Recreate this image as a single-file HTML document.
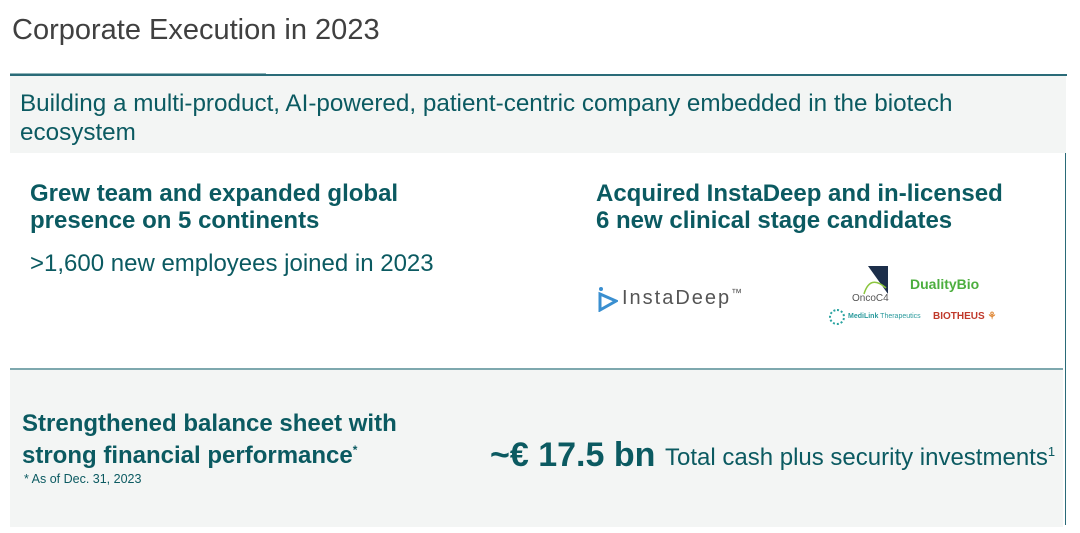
<!DOCTYPE html>
<html><head><style>
body{margin:0;width:1080px;height:533px;background:#fff;position:relative;overflow:hidden;font-family:"Liberation Sans",sans-serif;}
.a{position:absolute;white-space:nowrap;}
.t{color:#0b5a61;}
.b{font-weight:bold;font-size:24px;line-height:27px;color:#0b5a61;}
</style></head><body>
<div class="a" style="left:12px;top:14px;font-size:29px;color:#404040;">Corporate Execution in 2023</div>
<div class="a" style="left:10px;top:74px;width:1057px;height:2px;background:#2a6b78;"></div>
<div class="a" style="left:10px;top:73px;width:256px;height:1px;background:#8fb4b8;"></div>
<div class="a" style="left:10px;top:76px;width:1056px;height:77px;background:#f3f5f4;"></div>
<div class="a t" style="left:20px;top:89px;font-size:24px;line-height:29px;transform-origin:0 0;transform:scaleX(1.01);">Building a multi-product, AI-powered, patient-centric company embedded in the biotech<br>ecosystem</div>
<div class="a" style="left:1065px;top:153px;width:1px;height:372px;background:#2a6b78;"></div>
<div class="a b" style="left:30px;top:180px;">Grew team and expanded global<br>presence on 5 continents</div>
<div class="a t" style="left:30px;top:250px;font-size:24px;">&gt;1,600 new employees joined in 2023</div>
<div class="a b" style="left:596px;top:180px;">Acquired InstaDeep and in-licensed<br>6 new clinical stage candidates</div>
<svg class="a" style="left:598px;top:286px" width="20" height="26"><path d="M2 8 L18 15 L2 24 Z" fill="none" stroke="#3a8fd0" stroke-width="3"/><circle cx="3" cy="3" r="2" fill="#3a8fd0"/></svg>
<div class="a" style="left:622px;top:287px;font-size:20px;letter-spacing:2px;color:#555;">InstaDeep<sup style="font-size:11px">™</sup></div>
<svg class="a" style="left:860px;top:266px" width="30" height="30"><path d="M8 0 H28 V28 Z" fill="#1c2e4a"/><path d="M4 28 Q10 8 26 22" fill="none" stroke="#8cc63f" stroke-width="1.5"/></svg>
<div class="a" style="left:852px;top:293px;font-size:10px;color:#555;">OncoC4</div>
<div class="a" style="left:910px;top:276px;font-size:14px;font-weight:bold;color:#4cae3e;">DualityBio</div>
<div class="a" style="left:829px;top:309px;width:16px;height:16px;border:2px dotted #2aa3a0;border-radius:50%;box-sizing:border-box;"></div>
<div class="a" style="left:848px;top:313px;font-size:7px;color:#2a9a9c;"><b>MediLink</b> Therapeutics</div>
<div class="a" style="left:933px;top:311px;font-size:10px;font-weight:bold;color:#c0392b;">BIOTHEUS <span style="color:#e08a3a">⚘</span></div>
<div class="a" style="left:10px;top:368px;width:1053px;height:2px;background:#7ea8ae;"></div>
<div class="a" style="left:10px;top:370px;width:1053px;height:157px;background:#f3f5f4;"></div>
<div class="a b" style="left:22px;top:410px;">Strengthened balance sheet with<br>strong financial performance<sup style="font-size:12px">*</sup></div>
<div class="a t" style="left:24px;top:472px;font-size:12.5px;">* As of Dec. 31, 2023</div>
<div class="a t" style="left:490px;top:436px;font-size:34px;font-weight:bold;">~€ 17.5 bn</div>
<div class="a t" style="left:665px;top:444px;font-size:24px;">Total cash plus security investments<sup style="font-size:13px">1</sup></div>
</body></html>
